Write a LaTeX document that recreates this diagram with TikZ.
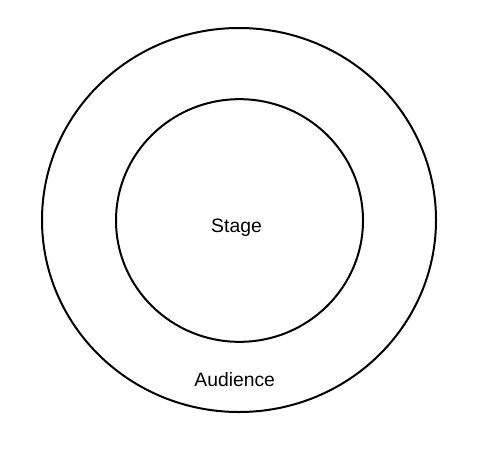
\documentclass[tikz,border=0pt]{standalone}
\usepackage{fontspec}
\setmainfont{Liberation Sans}
\usepackage{tikz}
\usetikzlibrary{shapes.geometric, positioning}
\tikzset{
	font = \fontsize{14.5}{17}\selectfont,
	ring/.style={
		draw,
		ellipse,
		line width=1.5pt,
		inner sep=0pt,
		outer sep=0pt
	},
	caption/.style={
		inner sep=0pt,
		anchor=base
	}
}
\begin{document}
\begin{tikzpicture}[x=0.75pt, y=-0.75pt]
		\useasboundingbox (0,0) rectangle (481,454);
% ---
% audience and stage
% ---
\node[ring, minimum width=295.5pt, minimum height=288pt] at (239,220) (audience) {};
\node[ring, minimum width=185.25pt, minimum height=182pt] at (239.5,220.5) (stage) {};

\node[caption] at (236.5,232.3) (stage-label) {Stage};
\node[caption] at (234.7,386.7) (audience-label) {Audience};
	\end{tikzpicture}
\end{document}
